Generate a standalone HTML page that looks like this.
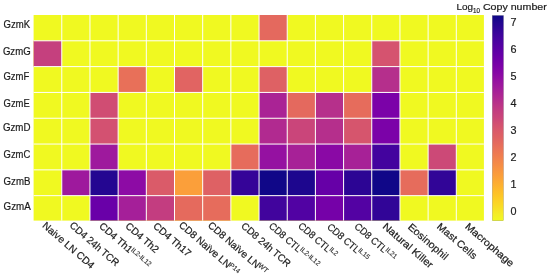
<!DOCTYPE html><html><head><meta charset="utf-8"><title>Granzyme heatmap</title>
<style>html,body{margin:0;padding:0;background:#fff}body{width:550px;height:275px;overflow:hidden;position:relative}svg{display:block;position:absolute;left:0;top:0}text{font-family:"Liberation Sans",sans-serif;fill:#1c1c1c;stroke:#1c1c1c;stroke-width:0.2}</style></head><body>
<svg width="550" height="275" viewBox="0 0 550 275">
<rect width="550" height="275" fill="#fff"/>
<rect x="33.6" y="15.0" width="450.30" height="205.60" fill="#f0f921"/>
<rect x="259.04" y="15.00" width="28.18" height="25.81" fill="#e4695e"/>
<rect x="33.60" y="40.81" width="28.18" height="25.81" fill="#c5407e"/>
<rect x="371.76" y="40.81" width="28.18" height="25.81" fill="#d5536f"/>
<rect x="118.14" y="66.62" width="28.18" height="25.81" fill="#e87059"/>
<rect x="174.50" y="66.62" width="28.18" height="25.81" fill="#e16462"/>
<rect x="259.04" y="66.62" width="28.18" height="25.81" fill="#de6164"/>
<rect x="371.76" y="66.62" width="28.18" height="25.81" fill="#b52f8c"/>
<rect x="89.96" y="92.43" width="28.18" height="25.81" fill="#d04d73"/>
<rect x="259.04" y="92.43" width="28.18" height="25.81" fill="#aa2395"/>
<rect x="287.22" y="92.43" width="28.18" height="25.81" fill="#e4695e"/>
<rect x="315.40" y="92.43" width="28.18" height="25.81" fill="#b6308b"/>
<rect x="343.58" y="92.43" width="28.18" height="25.81" fill="#e66c5c"/>
<rect x="371.76" y="92.43" width="28.18" height="25.81" fill="#7b02a8"/>
<rect x="89.96" y="118.24" width="28.18" height="25.81" fill="#d35171"/>
<rect x="259.04" y="118.24" width="28.18" height="25.81" fill="#b12a90"/>
<rect x="287.22" y="118.24" width="28.18" height="25.81" fill="#ca457a"/>
<rect x="315.40" y="118.24" width="28.18" height="25.81" fill="#b52f8c"/>
<rect x="343.58" y="118.24" width="28.18" height="25.81" fill="#d6556d"/>
<rect x="371.76" y="118.24" width="28.18" height="25.81" fill="#7b02a8"/>
<rect x="89.96" y="144.05" width="28.18" height="25.81" fill="#9e199d"/>
<rect x="230.86" y="144.05" width="28.18" height="25.81" fill="#e66c5c"/>
<rect x="259.04" y="144.05" width="28.18" height="25.81" fill="#9511a1"/>
<rect x="287.22" y="144.05" width="28.18" height="25.81" fill="#a72197"/>
<rect x="315.40" y="144.05" width="28.18" height="25.81" fill="#8a09a5"/>
<rect x="343.58" y="144.05" width="28.18" height="25.81" fill="#a72197"/>
<rect x="371.76" y="144.05" width="28.18" height="25.81" fill="#43039e"/>
<rect x="428.12" y="144.05" width="28.18" height="25.81" fill="#cc4977"/>
<rect x="61.78" y="169.86" width="28.18" height="25.81" fill="#9e199d"/>
<rect x="89.96" y="169.86" width="28.18" height="25.81" fill="#240691"/>
<rect x="118.14" y="169.86" width="28.18" height="25.81" fill="#8d0ba5"/>
<rect x="146.32" y="169.86" width="28.18" height="25.81" fill="#da5b69"/>
<rect x="174.50" y="169.86" width="28.18" height="25.81" fill="#fb9f3a"/>
<rect x="202.68" y="169.86" width="28.18" height="25.81" fill="#de6164"/>
<rect x="230.86" y="169.86" width="28.18" height="25.81" fill="#350498"/>
<rect x="259.04" y="169.86" width="28.18" height="25.81" fill="#100788"/>
<rect x="287.22" y="169.86" width="28.18" height="25.81" fill="#1d068e"/>
<rect x="315.40" y="169.86" width="28.18" height="25.81" fill="#6600a7"/>
<rect x="343.58" y="169.86" width="28.18" height="25.81" fill="#2c0594"/>
<rect x="371.76" y="169.86" width="28.18" height="25.81" fill="#100788"/>
<rect x="399.94" y="169.86" width="28.18" height="25.81" fill="#e66c5c"/>
<rect x="428.12" y="169.86" width="28.18" height="25.81" fill="#310597"/>
<rect x="89.96" y="195.67" width="28.18" height="24.93" fill="#6900a8"/>
<rect x="118.14" y="195.67" width="28.18" height="24.93" fill="#a51f99"/>
<rect x="146.32" y="195.67" width="28.18" height="24.93" fill="#c33d80"/>
<rect x="174.50" y="195.67" width="28.18" height="24.93" fill="#e56a5d"/>
<rect x="202.68" y="195.67" width="28.18" height="24.93" fill="#e66c5c"/>
<rect x="259.04" y="195.67" width="28.18" height="24.93" fill="#41049d"/>
<rect x="287.22" y="195.67" width="28.18" height="24.93" fill="#5102a3"/>
<rect x="315.40" y="195.67" width="28.18" height="24.93" fill="#7501a8"/>
<rect x="343.58" y="195.67" width="28.18" height="24.93" fill="#5302a3"/>
<rect x="371.76" y="195.67" width="28.18" height="24.93" fill="#310597"/>
<path d="M61.78 15.0V220.6M89.96 15.0V220.6M118.14 15.0V220.6M146.32 15.0V220.6M174.50 15.0V220.6M202.68 15.0V220.6M230.86 15.0V220.6M259.04 15.0V220.6M287.22 15.0V220.6M315.40 15.0V220.6M343.58 15.0V220.6M371.76 15.0V220.6M399.94 15.0V220.6M428.12 15.0V220.6M456.30 15.0V220.6M33.6 40.81H483.9M33.6 66.62H483.9M33.6 92.43H483.9M33.6 118.24H483.9M33.6 144.05H483.9M33.6 169.86H483.9M33.6 195.67H483.9" stroke="#fff" stroke-width="1" fill="none"/>
<text x="3.60" y="27.60" font-size="10.0" textLength="26.50" lengthAdjust="spacingAndGlyphs">GzmK</text>
<text x="2.90" y="55.30" font-size="10.0" textLength="27.75" lengthAdjust="spacingAndGlyphs">GzmG</text>
<text x="3.40" y="80.30" font-size="10.0" textLength="25.81" lengthAdjust="spacingAndGlyphs">GzmF</text>
<text x="3.60" y="106.60" font-size="10.0" textLength="26.14" lengthAdjust="spacingAndGlyphs">GzmE</text>
<text x="2.90" y="131.00" font-size="10.0" textLength="27.57" lengthAdjust="spacingAndGlyphs">GzmD</text>
<text x="3.60" y="157.50" font-size="10.0" textLength="26.65" lengthAdjust="spacingAndGlyphs">GzmC</text>
<text x="3.60" y="184.60" font-size="10.0" textLength="26.77" lengthAdjust="spacingAndGlyphs">GzmB</text>
<text x="3.60" y="210.00" font-size="10.0" textLength="27.17" lengthAdjust="spacingAndGlyphs">GzmA</text>
<g transform="translate(41.80 226.60) rotate(41)"><text x="0.00" y="0.00" font-size="10.1" textLength="64.90" lengthAdjust="spacingAndGlyphs">Naive LN CD4</text></g>
<g transform="translate(68.98 226.30) rotate(41)"><text x="0.00" y="0.00" font-size="10.1" textLength="61.73" lengthAdjust="spacingAndGlyphs">CD4 24h TCR</text></g>
<g transform="translate(98.56 226.90) rotate(41)"><text x="0.00" y="0.00" font-size="10.1" textLength="40.29" lengthAdjust="spacingAndGlyphs">CD4 Th1</text><text x="39.79" y="-3.00" font-size="6.9" textLength="24.42" lengthAdjust="spacingAndGlyphs" style="stroke-width:0.12;fill:#2a2a2a;stroke:#2a2a2a">IL2-IL12</text></g>
<g transform="translate(124.74 226.90) rotate(41)"><text x="0.00" y="0.00" font-size="10.1" textLength="40.29" lengthAdjust="spacingAndGlyphs">CD4 Th2</text></g>
<g transform="translate(152.52 226.90) rotate(41)"><text x="0.00" y="0.00" font-size="10.1" textLength="46.30" lengthAdjust="spacingAndGlyphs">CD4 Th17</text></g>
<g transform="translate(178.30 225.90) rotate(41)"><text x="0.00" y="0.00" font-size="10.1" textLength="64.90" lengthAdjust="spacingAndGlyphs">CD8 Naïve LN</text><text x="64.40" y="-3.00" font-size="6.9" textLength="11.79" lengthAdjust="spacingAndGlyphs" style="stroke-width:0.12;fill:#2a2a2a;stroke:#2a2a2a">P14</text></g>
<g transform="translate(207.28 226.30) rotate(41)"><text x="0.00" y="0.00" font-size="10.1" textLength="64.90" lengthAdjust="spacingAndGlyphs">CD8 Naïve LN</text><text x="64.40" y="-3.00" font-size="6.9" textLength="10.60" lengthAdjust="spacingAndGlyphs" style="stroke-width:0.12;fill:#2a2a2a;stroke:#2a2a2a">WT</text></g>
<g transform="translate(240.56 226.90) rotate(41)"><text x="0.00" y="0.00" font-size="10.1" textLength="61.73" lengthAdjust="spacingAndGlyphs">CD8 24h TCR</text></g>
<g transform="translate(268.24 226.90) rotate(41)"><text x="0.00" y="0.00" font-size="10.1" textLength="39.35" lengthAdjust="spacingAndGlyphs">CD8 CTL</text><text x="38.85" y="-3.00" font-size="6.9" textLength="24.42" lengthAdjust="spacingAndGlyphs" style="stroke-width:0.12;fill:#2a2a2a;stroke:#2a2a2a">IL2-IL12</text></g>
<g transform="translate(297.62 226.90) rotate(41)"><text x="0.00" y="0.00" font-size="10.1" textLength="39.35" lengthAdjust="spacingAndGlyphs">CD8 CTL</text><text x="38.85" y="-3.00" font-size="6.9" textLength="9.08" lengthAdjust="spacingAndGlyphs" style="stroke-width:0.12;fill:#2a2a2a;stroke:#2a2a2a">IL2</text></g>
<g transform="translate(326.40 227.90) rotate(41)"><text x="0.00" y="0.00" font-size="10.1" textLength="39.35" lengthAdjust="spacingAndGlyphs">CD8 CTL</text><text x="38.85" y="-3.00" font-size="6.9" textLength="12.98" lengthAdjust="spacingAndGlyphs" style="stroke-width:0.12;fill:#2a2a2a;stroke:#2a2a2a">IL15</text></g>
<g transform="translate(353.78 227.40) rotate(41)"><text x="0.00" y="0.00" font-size="10.1" textLength="39.35" lengthAdjust="spacingAndGlyphs">CD8 CTL</text><text x="38.85" y="-3.00" font-size="6.9" textLength="12.98" lengthAdjust="spacingAndGlyphs" style="stroke-width:0.12;fill:#2a2a2a;stroke:#2a2a2a">IL21</text></g>
<g transform="translate(381.96 227.40) rotate(41)"><text x="0.00" y="0.00" font-size="10.1" textLength="63.07" lengthAdjust="spacingAndGlyphs">Natural Killer</text></g>
<g transform="translate(407.14 227.90) rotate(41)"><text x="0.00" y="0.00" font-size="10.1" textLength="49.71" lengthAdjust="spacingAndGlyphs">Eosinophil</text></g>
<g transform="translate(436.32 227.40) rotate(41)"><text x="0.00" y="0.00" font-size="10.1" textLength="49.37" lengthAdjust="spacingAndGlyphs">Mast Cells</text></g>
<g transform="translate(464.50 227.40) rotate(41)"><text x="0.00" y="0.00" font-size="10.1" textLength="60.80" lengthAdjust="spacingAndGlyphs">Macrophage</text></g>
<defs><linearGradient id="cb" x1="0" y1="0" x2="0" y2="1"><stop offset="0.0000" stop-color="#0d0887"/><stop offset="0.0312" stop-color="#20068f"/><stop offset="0.0625" stop-color="#2f0596"/><stop offset="0.0938" stop-color="#3e049c"/><stop offset="0.1250" stop-color="#4b03a1"/><stop offset="0.1562" stop-color="#5801a4"/><stop offset="0.1875" stop-color="#6400a7"/><stop offset="0.2188" stop-color="#7100a8"/><stop offset="0.2500" stop-color="#7d03a8"/><stop offset="0.2812" stop-color="#8808a6"/><stop offset="0.3125" stop-color="#9410a2"/><stop offset="0.3438" stop-color="#9e199d"/><stop offset="0.3750" stop-color="#a82296"/><stop offset="0.4062" stop-color="#b22b8f"/><stop offset="0.4375" stop-color="#bc3587"/><stop offset="0.4688" stop-color="#c43e7f"/><stop offset="0.5000" stop-color="#cb4679"/><stop offset="0.5312" stop-color="#d35171"/><stop offset="0.5625" stop-color="#da5a6a"/><stop offset="0.5938" stop-color="#df6263"/><stop offset="0.6250" stop-color="#e56b5d"/><stop offset="0.6562" stop-color="#eb7556"/><stop offset="0.6875" stop-color="#f07f4f"/><stop offset="0.7188" stop-color="#f48948"/><stop offset="0.7500" stop-color="#f89441"/><stop offset="0.7812" stop-color="#fb9f3a"/><stop offset="0.8125" stop-color="#fdab33"/><stop offset="0.8438" stop-color="#feb82c"/><stop offset="0.8750" stop-color="#fdc527"/><stop offset="0.9062" stop-color="#fcd225"/><stop offset="0.9375" stop-color="#f8df25"/><stop offset="0.9688" stop-color="#f4ed27"/><stop offset="1.0000" stop-color="#f0f921"/></linearGradient></defs>
<rect x="492.3" y="15.5" width="11.20" height="205.30" fill="url(#cb)" stroke="#444" stroke-opacity="0.55" stroke-width="0.35"/>
<text x="510.4" y="215.30" font-size="10.8">0</text>
<text x="510.4" y="188.19" font-size="10.8">1</text>
<text x="510.4" y="161.07" font-size="10.8">2</text>
<text x="510.4" y="133.96" font-size="10.8">3</text>
<text x="510.4" y="106.84" font-size="10.8">4</text>
<text x="510.4" y="79.73" font-size="10.8">5</text>
<text x="510.4" y="52.61" font-size="10.8">6</text>
<text x="510.4" y="25.50" font-size="10.8">7</text>
<text x="456.40" y="10.40" font-size="9.8" textLength="16.52" lengthAdjust="spacingAndGlyphs">Log</text>
<text x="473.00" y="12.60" font-size="7.0" textLength="6.90" lengthAdjust="spacingAndGlyphs">10</text>
<text x="482.90" y="10.40" font-size="9.8" textLength="63.90" lengthAdjust="spacingAndGlyphs">Copy number</text>
</svg></body></html>
